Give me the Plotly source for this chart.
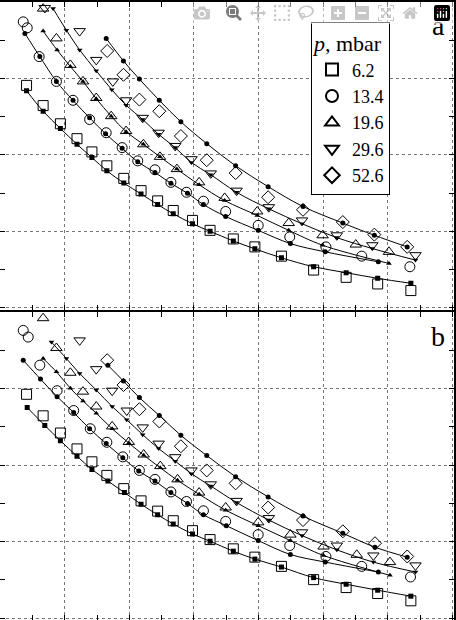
import plotly.graph_objects as go
from plotly.subplots import make_subplots

# units: x 0..1368, y 0..930 per panel (no labelled scale in source)
pressures = ["6.2", "13.4", "19.6", "29.6", "52.6"]
symbols = ["square-open", "circle-open", "triangle-up-open", "triangle-down-open", "diamond-open"]
fill_symbols = ["square", "circle", "triangle-up", "triangle-down", "circle"]

# ---- panel a: measured (open) ----
a_sq_x = [80, 130, 182, 232, 277, 322, 373, 425, 475, 522, 580, 633, 703, 768, 848, 945, 1043, 1138, 1238]
a_sq_y = [678, 617, 562, 517, 477, 435, 397, 360, 329, 300, 270, 240, 214, 190, 162, 120, 98, 78, 58]
a_ci_x = [70, 82, 118, 170, 220, 270, 320, 368, 415, 467, 515, 562, 613, 680, 778, 873, 982, 1090, 1235]
a_ci_y = [870, 852, 765, 690, 633, 575, 535, 490, 450, 423, 385, 355, 328, 297, 255, 220, 190, 162, 130]
a_tu_x = [130, 170, 212, 250, 290, 335, 380, 432, 482, 533, 600, 677, 775, 870, 972, 1072, 1172]
a_tu_y = [910, 820, 740, 690, 640, 585, 540, 500, 462, 425, 385, 338, 297, 262, 225, 197, 175]
a_td_x = [135, 240, 290, 340, 380, 430, 478, 528, 577, 635, 713, 810, 910, 1015, 1122, 1252]
a_td_y = [912, 842, 755, 690, 633, 580, 535, 495, 455, 412, 360, 310, 270, 225, 195, 165]
a_di_x = [323, 372, 420, 480, 545, 623, 710, 808, 913, 1033, 1128, 1227]
a_di_y = [782, 710, 635, 600, 525, 452, 413, 340, 302, 265, 227, 190]
# ---- panel a: fitted (filled) ----
a_sq_fx = [80, 130, 182, 232, 277, 322, 373, 425, 475, 522, 580, 633, 703, 768, 848, 945, 1043, 1138, 1238]
a_sq_fy = [662, 600, 548, 500, 460, 420, 383, 350, 318, 290, 260, 237, 208, 184, 157, 130, 112, 95, 80]
a_ci_fx = [75, 120, 170, 220, 270, 318, 368, 415, 467, 515, 565, 613, 680, 778, 875, 980, 1140]
a_ci_fy = [835, 765, 690, 633, 580, 532, 488, 447, 415, 382, 352, 318, 282, 240, 200, 175, 145]
a_tu_fx = [130, 172, 212, 250, 290, 335, 380, 432, 482, 533, 600, 677, 775, 870, 972, 1172]
a_tu_fy = [842, 785, 735, 690, 638, 585, 538, 500, 462, 425, 378, 330, 285, 240, 195, 140]
a_td_fx = [160, 200, 240, 290, 337, 380, 430, 478, 528, 577, 635, 713, 810, 910, 1015, 1122, 1252]
a_td_fy = [910, 845, 785, 722, 665, 618, 575, 530, 490, 445, 408, 355, 305, 260, 218, 185, 150]
a_di_fx = [320, 372, 420, 480, 545, 623, 710, 808, 913, 1033, 1128, 1227]
a_di_fy = [820, 752, 697, 633, 568, 502, 435, 372, 312, 262, 225, 190]

# ---- panel b: measured (open) ----
b_sq_x = a_sq_x
b_sq_y = [682, 617, 565, 517, 478, 437, 397, 360, 329, 300, 270, 243, 215, 190, 162, 122, 98, 80, 58]
b_ci_x = [70, 85, 120, 172, 222, 272, 322, 370, 420, 467, 515, 562, 613, 680, 778, 873, 982, 1090, 1237]
b_ci_y = [875, 855, 770, 693, 633, 578, 537, 493, 452, 425, 387, 358, 330, 298, 258, 225, 192, 162, 130]
b_tu_x = [130, 170, 212, 250, 290, 338, 388, 433, 483, 535, 600, 680, 778, 875, 975, 1075, 1175]
b_tu_y = [912, 822, 747, 690, 645, 585, 538, 500, 465, 425, 385, 340, 295, 258, 222, 197, 175]
b_td_x = [240, 290, 338, 382, 430, 478, 528, 577, 635, 713, 810, 910, 1015, 1125, 1252]
b_td_y = [845, 758, 693, 633, 582, 533, 492, 452, 410, 360, 308, 265, 225, 195, 165]
b_di_x = [323, 372, 420, 480, 545, 623, 710, 808, 913, 1033, 1130, 1227]
b_di_y = [785, 710, 637, 600, 525, 452, 413, 340, 302, 268, 232, 192]
# ---- panel b: fitted (filled) ----
b_sq_fx = [82, 135, 182, 232, 277, 325, 375, 425, 475, 522, 580, 633, 703, 768, 848, 945, 1043, 1138, 1238]
b_sq_fy = [642, 588, 542, 495, 455, 420, 385, 350, 318, 290, 260, 238, 208, 184, 160, 128, 108, 90, 72]
b_ci_fx = [70, 122, 172, 222, 270, 320, 370, 418, 467, 515, 565, 613, 682, 778, 875, 980, 1140]
b_ci_fy = [785, 728, 675, 627, 578, 533, 490, 450, 420, 385, 352, 318, 285, 240, 198, 175, 145]
b_tu_fx = [130, 170, 212, 250, 290, 338, 388, 433, 483, 535, 600, 680, 778, 875, 975, 1175]
b_tu_fy = [790, 750, 700, 662, 625, 578, 535, 498, 460, 422, 380, 332, 285, 240, 195, 135]
b_td_fx = [155, 200, 240, 290, 338, 382, 430, 478, 528, 577, 635, 713, 810, 910, 1015, 1125, 1252]
b_td_fy = [840, 790, 745, 695, 645, 605, 560, 518, 480, 442, 405, 355, 302, 255, 212, 175, 145]
b_di_fx = [325, 372, 420, 480, 545, 623, 710, 808, 913, 1033, 1130, 1227]
b_di_fy = [770, 722, 672, 618, 558, 497, 433, 372, 314, 262, 220, 190]

panel_a = [(a_sq_x, a_sq_y, a_sq_fx, a_sq_fy), (a_ci_x, a_ci_y, a_ci_fx, a_ci_fy),
           (a_tu_x, a_tu_y, a_tu_fx, a_tu_fy), (a_td_x, a_td_y, a_td_fx, a_td_fy),
           (a_di_x, a_di_y, a_di_fx, a_di_fy)]
panel_b = [(b_sq_x, b_sq_y, b_sq_fx, b_sq_fy), (b_ci_x, b_ci_y, b_ci_fx, b_ci_fy),
           (b_tu_x, b_tu_y, b_tu_fx, b_tu_fy), (b_td_x, b_td_y, b_td_fx, b_td_fy),
           (b_di_x, b_di_y, b_di_fx, b_di_fy)]

fig = make_subplots(rows=2, cols=1, vertical_spacing=0.004)

for row, panel in [(1, panel_a), (2, panel_b)]:
    for i, (ox, oy, fx, fy) in enumerate(panel):
        fig.add_trace(go.Scatter(x=fx, y=fy, mode="lines", line=dict(color="black", width=1, shape="spline"),
                                 showlegend=False, hoverinfo="skip"), row=row, col=1)
        fig.add_trace(go.Scatter(x=fx, y=fy, mode="markers", showlegend=False,
                                 marker=dict(symbol=fill_symbols[i], color="black", size=5)), row=row, col=1)
        fig.add_trace(go.Scatter(x=ox, y=oy, mode="markers", name=pressures[i], showlegend=(row == 1),
                                 marker=dict(symbol=symbols[i], color="black", size=10,
                                             line=dict(width=1, color="black"))), row=row, col=1)

axis_common = dict(showline=True, linecolor="black", linewidth=2, mirror="ticks", ticks="inside",
                   ticklen=5, tickcolor="black", showticklabels=False, zeroline=False,
                   showgrid=True, gridcolor="#777", griddash="dot", gridwidth=1)
for r in (1, 2):
    fig.update_xaxes(range=[0, 1368], tick0=195, dtick=194.6,
                     minor=dict(ticks="inside", ticklen=5, tickcolor="black", tick0=0.7, dtick=97.3, showgrid=False),
                     row=r, col=1, **axis_common)
    fig.update_yaxes(range=[0, 930], tick0=237, dtick=231,
                     minor=dict(ticks="inside", ticklen=5, tickcolor="black", tick0=6, dtick=115.5, showgrid=False),
                     row=r, col=1, **axis_common)

fig.add_annotation(text="a", x=0.985, y=0.99, xref="paper", yref="paper", xanchor="right", yanchor="top",
                   showarrow=False, font=dict(size=28, family="Liberation Serif", color="black"))
fig.add_annotation(text="b", x=0.985, y=0.487, xref="paper", yref="paper", xanchor="right", yanchor="top",
                   showarrow=False, font=dict(size=28, family="Liberation Serif", color="black"))

fig.update_layout(
    width=456, height=620, margin=dict(l=0, r=0, t=0, b=0),
    plot_bgcolor="white", paper_bgcolor="white",
    font=dict(family="Liberation Serif", size=18, color="black"),
    legend=dict(title=dict(text="<i>p</i>, mbar"), x=0.685, y=0.968, xanchor="left", yanchor="top",
                bordercolor="black", borderwidth=1, bgcolor="white", itemsizing="constant",
                tracegroupgap=0),
)

fig.write_html("out.html", post_script="document.body.style.margin='0';")
